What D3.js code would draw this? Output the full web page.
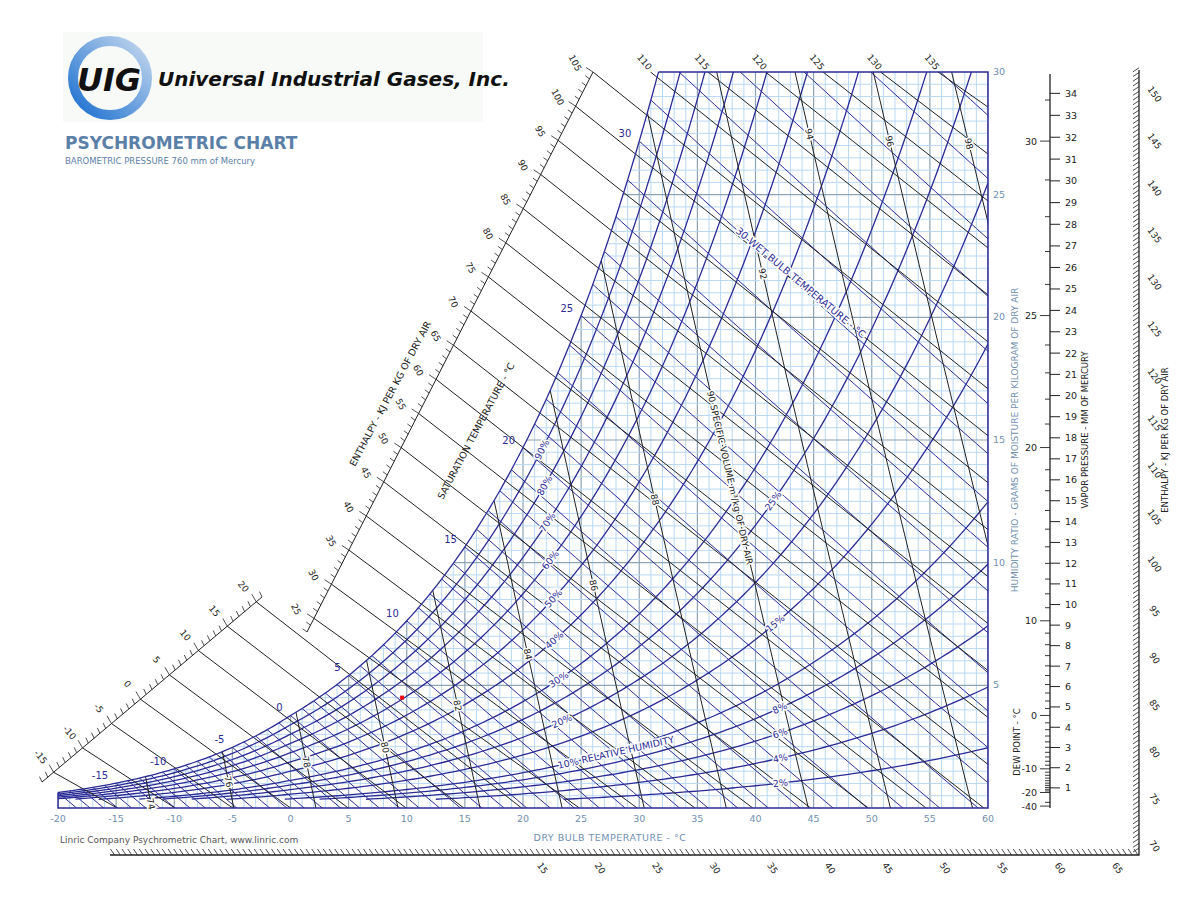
<!DOCTYPE html>
<html>
<head>
<meta charset="utf-8">
<script src="https://cdn.jsdelivr.net/npm/d3@7.9.0/dist/d3.min.js"></script>
<style>
  body { margin: 0; background: #fff; }
  svg text { font-family: "DejaVu Sans", Arial, sans-serif; }
</style>
</head>
<body>
<svg id="chart" width="1200" height="924"></svg>
<script>
// ---- data ----
const dryBulbTicks = [-20, -15, -10, -5, 0, 5, 10, 15, 20, 25, 30, 35, 40, 45, 50, 55, 60];
const humidityTicks = [5, 10, 15, 20, 25, 30];
const rhCurves = [0.02, 0.04, 0.06, 0.08, 0.10, 0.15, 0.20, 0.25, 0.30, 0.40, 0.50, 0.60, 0.70, 0.80, 0.90];
const rhLabelT = [41.5, 41.5, 41.5, 41.5, 23, 41, 22.5, 41, 22.3, 22, 22, 21.8, 21.6, 21.4, 21.2];
const wetBulbLabels = [-15, -10, -5, 0, 5, 10, 15, 20, 25, 30];
const enthalpyLower = [-15, -10, -5, 0, 5, 10, 15, 20];
const enthalpyUpper = [25, 30, 35, 40, 45, 50, 55, 60, 65, 70, 75, 80, 85, 90, 95, 100, 105];
const enthalpyTop = [110, 115, 120, 125, 130, 135];
const volumes = [0.74, 0.76, 0.78, 0.80, 0.82, 0.84, 0.86, 0.88, 0.90, 0.92, 0.94, 0.96, 0.98];
const volumeLabelW = [0.4, 1.3, 2.1, 2.7, 4.4, 6.5, 9.3, 12.8, 17, 22, 27.7, 27.4, 27.3];
const vaporPressureTicks = d3.range(1, 35);
const dewPointLabels = [-40, -20, -10, 0, 10, 20, 25, 30];
const bottomEnthalpy = [15, 20, 25, 30, 35, 40, 45, 50, 55, 60, 65];
const rightEnthalpy = [70, 75, 80, 85, 90, 95, 100, 105, 110, 115, 120, 125, 130, 135, 140, 145, 150];

// ---- psychrometrics ----
const P = 101.325;
const pws = t => t >= 0 ? 0.61078 * Math.exp(17.27 * t / (t + 237.3)) : 0.61078 * Math.exp(21.875 * t / (t + 265.5));
const wFromPw = pw => 622 * pw / (P - pw);
const wSat = t => wFromPw(pws(t));
const wWetBulb = (t, twb) => {
  const ws = wSat(twb) / 1000;
  return 1000 * ((2501 - 2.326 * twb) * ws - 1.006 * (t - twb)) / (2501 + 1.86 * t - 4.186 * twb);
};

const svg = d3.select('#chart');
const x = d3.scaleLinear().domain([-20, 60]).range([58, 988]);
const y = d3.scaleLinear().domain([0, 30]).range([808, 72]);
const navy = '#2b2b96', grayBlue = '#6f8fb2';
const line = d3.line().x(d => x(d[0])).y(d => y(d[1]));

// saturation boundary
let tTop = d3.range(-20, 40, 0.01).find(t => wSat(t) >= 30);
const satPts = d3.range(-20, tTop, 0.25).map(t => [t, wSat(t)]).concat([[tTop, 30]]);
const regionPts = satPts.concat([[60, 30], [60, 0], [-20, 0]]);
svg.append('clipPath').attr('id', 'region').append('path').attr('d', line(regionPts) + 'Z');
svg.append('clipPath').attr('id', 'rect').append('rect').attr('x', 0).attr('y', 72).attr('width', 988).attr('height', 736);

const g = svg.append('g').attr('clip-path', 'url(#region)');

// light grid
d3.range(-20, 61, 1).forEach(t => g.append('line').attr('x1', x(t)).attr('x2', x(t)).attr('y1', 72).attr('y2', 808)
  .attr('stroke', t % 5 === 0 ? '#8ea3b6' : '#b9d9f7').attr('stroke-width', t % 5 === 0 ? 1.2 : 1));
d3.range(0.5, 30, 0.5).forEach(w => g.append('line').attr('x1', 58).attr('x2', 988).attr('y1', y(w)).attr('y2', y(w))
  .attr('stroke', w % 5 === 0 ? '#8ea3b6' : '#b9d9f7').attr('stroke-width', w % 5 === 0 ? 1.2 : 1));

// wet bulb lines
d3.range(-20, 41, 1).forEach(twb => {
  const pts = d3.range(twb, 60.5, 0.5).map(t => [t, wWetBulb(t, twb)]).filter(d => d[1] > -1);
  g.append('path').attr('d', line(pts)).attr('fill', 'none').attr('stroke', navy).attr('stroke-width', 1);
});

// relative humidity curves
rhCurves.forEach(rh => {
  const pts = d3.range(-20, 60.5, 0.5).map(t => [t, wFromPw(rh * pws(t))]).filter(d => d[1] > 0.35);
  g.append('path').attr('d', line(pts)).attr('fill', 'none').attr('stroke', navy).attr('stroke-width', 1.3);
});

// specific volume lines
const tFromV = (v, w) => v * P / (0.287042 * (1 + 1.607858 * w / 1000)) - 273.15;
volumes.forEach(v => {
  const pts = d3.range(0, 31, 0.5).map(w => [tFromV(v, w), w]);
  g.append('path').attr('d', line(pts)).attr('fill', 'none').attr('stroke', '#222').attr('stroke-width', 1);
});

// enthalpy lines (black) from their scales to the chart edge
const lowerPos = h => [42 + (h + 17) * 5.79, 782 - (h + 17) * 4.87];
const upperPos = h => [307 + (h - 23) * 3.488, 632 - (h - 23) * 6.829];
const topPos = h => [593 + (h - 105) * 11.5, 72];
const hEnd = h => h <= 60.36 ? [x(h / 1.006), 808] : [988, y(1000 * (h - 60.36) / 2612.6)];
const ge = svg.append('g').attr('clip-path', 'url(#rect)');
[[enthalpyLower, lowerPos], [enthalpyUpper, upperPos], [enthalpyTop, topPos]].forEach(([hs, pos]) => {
  hs.forEach(h => {
    const a = pos(h), b = hEnd(h);
    ge.append('line').attr('x1', a[0]).attr('y1', a[1]).attr('x2', b[0]).attr('y2', b[1])
      .attr('stroke', '#222').attr('stroke-width', 1);
  });
});

// enthalpy scales (lower and upper segments)
function slantScale(pos, h0, h1, nx, ny, rot, labels) {
  const a = pos(h0), b = pos(h1);
  svg.append('line').attr('x1', a[0]).attr('y1', a[1]).attr('x2', b[0]).attr('y2', b[1]).attr('stroke', '#222');
  d3.range(h0, h1 + 0.01, 1).forEach(h => {
    const p = pos(h), len = h % 5 === 0 ? 10 : 7;
    svg.append('line').attr('x1', p[0]).attr('y1', p[1]).attr('x2', p[0] + nx * len + 2).attr('y2', p[1] + ny * len)
      .attr('stroke', '#222').attr('stroke-width', 0.8);
  });
  labels.forEach(h => {
    const p = pos(h);
    svg.append('text').attr('transform', `translate(${p[0] + nx * 20},${p[1] + ny * 20}) rotate(${rot})`)
      .attr('text-anchor', 'middle').attr('dy', '0.35em').attr('font-size', 9).attr('fill', '#222').text(h);
  });
}
slantScale(lowerPos, -17, 21, -0.644, -0.765, 50, enthalpyLower);
slantScale(upperPos, 23, 105, -0.891, -0.455, 62, enthalpyUpper);
enthalpyTop.forEach(h => {
  const p = topPos(h);
  svg.append('text').attr('transform', `translate(${p[0] - 6},${p[1] - 10}) rotate(50)`)
    .attr('text-anchor', 'middle').attr('dy', '0.35em').attr('font-size', 9).attr('fill', '#222').text(h);
});

// chart frame
svg.append('path').attr('d', `M${x(tTop)},72H988V808H58V${y(wSat(-20))}`).attr('fill', 'none').attr('stroke', navy).attr('stroke-width', 1.5);
svg.append('path').attr('d', line(satPts)).attr('fill', 'none').attr('stroke', navy).attr('stroke-width', 1.3);

// saturation labels
wetBulbLabels.forEach(t => {
  svg.append('text').attr('x', x(t) - 8).attr('y', y(wSat(t)) - 4).attr('text-anchor', 'end')
    .attr('font-size', 10).attr('fill', navy).text(t);
});

// RH labels
const halo = s => s.attr('stroke', '#fff').attr('stroke-width', 3).attr('paint-order', 'stroke');
rhCurves.forEach((rh, i) => {
  const t = rhLabelT[i];
  const p0 = [x(t), y(wFromPw(rh * pws(t)))], p1 = [x(t + 1), y(wFromPw(rh * pws(t + 1)))];
  const ang = Math.atan2(p1[1] - p0[1], p1[0] - p0[0]) * 180 / Math.PI;
  const label = rh === 0.10 ? '10% RELATIVE HUMIDITY' : Math.round(rh * 100) + '%';
  halo(svg.append('text').attr('transform', `translate(${p0[0]},${p0[1]}) rotate(${ang})`)
    .attr('dy', '0.35em').attr('font-size', 9.5).attr('fill', navy).text(label));
});

// volume labels
volumes.forEach((v, i) => {
  const w = volumeLabelW[i], t = tFromV(v, w);
  const p0 = [x(t), y(w)], p1 = [x(tFromV(v, w - 1)), y(w - 1)];
  const ang = Math.atan2(p1[1] - p0[1], p1[0] - p0[0]) * 180 / Math.PI;
  const label = v === 0.90 ? '90 SPECIFIC VOLUME m³/kg OF DRY AIR' : String(Math.round(v * 100));
  halo(svg.append('text').attr('transform', `translate(${p0[0]},${p0[1]}) rotate(${ang})`)
    .attr('text-anchor', 'start').attr('dy', '0.35em').attr('font-size', 9).attr('fill', '#222').text(label));
});

// axis titles inside chart
halo(svg.append('text').attr('transform', 'translate(735,232) rotate(40)').attr('font-size', 10).attr('fill', navy)
  .text('30 WET BULB TEMPERATURE - °C'));
svg.append('text').attr('transform', 'translate(443,500) rotate(-62)').attr('font-size', 9.5).attr('fill', '#222')
  .text('SATURATION TEMPERATURE - °C');
svg.append('text').attr('transform', 'translate(355,467) rotate(-62)').attr('font-size', 9.5).attr('fill', '#222')
  .text('ENTHALPY - KJ PER KG OF DRY AIR');

// red point
svg.append('rect').attr('x', x(9.6) - 2).attr('y', y(4.5) - 2).attr('width', 4).attr('height', 4).attr('fill', 'red');

// bottom and right axes
dryBulbTicks.forEach(t => svg.append('text').attr('x', x(t)).attr('y', 822).attr('text-anchor', 'middle')
  .attr('font-size', 9.5).attr('fill', grayBlue).text(t));
svg.append('text').attr('x', 610).attr('y', 841).attr('text-anchor', 'middle').attr('font-size', 9.5)
  .attr('fill', grayBlue).attr('letter-spacing', 0.5).text('DRY BULB TEMPERATURE - °C');
humidityTicks.forEach(w => svg.append('text').attr('x', 993).attr('y', y(w) + 3).attr('font-size', 9.5)
  .attr('fill', grayBlue).text(w));
svg.append('text').attr('transform', 'translate(1018,440) rotate(-90)').attr('text-anchor', 'middle').attr('font-size', 9)
  .attr('fill', grayBlue).text('HUMIDITY RATIO - GRAMS OF MOISTURE PER KILOGRAM OF DRY AIR');
svg.append('text').attr('x', 60).attr('y', 843).attr('font-size', 9).attr('fill', '#555')
  .text('Linric Company Psychrometric Chart, www.linric.com');

// vapour pressure / dew point scale
const vx = 1050;
svg.append('line').attr('x1', vx).attr('x2', vx).attr('y1', 74).attr('y2', 808).attr('stroke', '#222').attr('stroke-width', 1.3);
vaporPressureTicks.forEach(p => {
  const yy = y(wFromPw(p * P / 760));
  svg.append('line').attr('x1', vx).attr('x2', vx + 10).attr('y1', yy).attr('y2', yy).attr('stroke', '#222');
  svg.append('text').attr('x', vx + 15).attr('y', yy + 3.5).attr('font-size', 9.5).attr('fill', '#222').text(p);
});
d3.range(-20, 32, 1).concat([-40, -30]).forEach(td => {
  const yy = y(wSat(td)), major = dewPointLabels.includes(td);
  svg.append('line').attr('x1', vx - (major ? 10 : 5)).attr('x2', vx).attr('y1', yy).attr('y2', yy)
    .attr('stroke', '#222').attr('stroke-width', 0.9);
  if (major) svg.append('text').attr('x', vx - 13).attr('y', yy + 3.5).attr('text-anchor', 'end')
    .attr('font-size', 9.5).attr('fill', '#222').text(td);
});
svg.append('text').attr('transform', 'translate(1088,430) rotate(-90)').attr('text-anchor', 'middle').attr('font-size', 8.5)
  .attr('fill', '#222').text('VAPOR PRESSURE - MM OF MERCURY');
svg.append('text').attr('transform', 'translate(1020,742) rotate(-90)').attr('text-anchor', 'middle').attr('font-size', 8.5)
  .attr('fill', '#222').text('DEW POINT - °C');

// outer enthalpy scales (bottom and right)
const bx = h => 540 + (h - 15) * 11.5;
const ry = h => 848 - (h - 70) * 9.4;
svg.append('path').attr('d', `M110,855H1139V70`).attr('fill', 'none').attr('stroke', '#222').attr('stroke-width', 1.3);
d3.range(-22.5, 71, 0.5).filter(h => bx(h) >= 110 && bx(h) <= 1139).forEach(h => {
  svg.append('line').attr('x1', bx(h)).attr('y1', 855).attr('x2', bx(h) - 4).attr('y2', 849).attr('stroke', '#222').attr('stroke-width', 0.8);
});
d3.range(70, 153.5, 0.5).forEach(h => {
  svg.append('line').attr('x1', 1139).attr('y1', ry(h)).attr('x2', 1133).attr('y2', ry(h) + 4).attr('stroke', '#222').attr('stroke-width', 0.8);
});
bottomEnthalpy.forEach(h => svg.append('text').attr('transform', `translate(${bx(h)},870) rotate(55)`)
  .attr('text-anchor', 'middle').attr('font-size', 9).attr('fill', '#222').text(h));
rightEnthalpy.forEach(h => svg.append('text').attr('transform', `translate(1152,${ry(h)}) rotate(55)`)
  .attr('text-anchor', 'middle').attr('font-size', 9).attr('fill', '#222').text(h));
svg.append('text').attr('transform', 'translate(1168,440) rotate(-90)').attr('text-anchor', 'middle').attr('font-size', 8.5)
  .attr('fill', '#222').text('ENTHALPY - KJ PER KG OF DRY AIR');

// header / logo
svg.append('rect').attr('x', 63).attr('y', 32).attr('width', 420).attr('height', 90).attr('fill', '#f7faf7');
const grad = svg.append('defs').append('linearGradient').attr('id', 'ring').attr('x1', 0).attr('y1', 1).attr('x2', 1).attr('y2', 0);
grad.append('stop').attr('offset', '0%').attr('stop-color', '#1a6fd0');
grad.append('stop').attr('offset', '100%').attr('stop-color', '#c5d8ee');
svg.append('circle').attr('cx', 110).attr('cy', 78).attr('r', 37).attr('fill', 'none').attr('stroke', 'url(#ring)').attr('stroke-width', 10);
svg.append('text').attr('x', 109).attr('y', 91).attr('text-anchor', 'middle').attr('font-size', 32).attr('font-weight', 'bold')
  .attr('font-style', 'italic').attr('fill', '#111').text('UIG');
svg.append('text').attr('x', 158).attr('y', 86).attr('font-size', 20).attr('font-weight', 'bold')
  .attr('font-style', 'italic').attr('fill', '#111').text('Universal Industrial Gases, Inc.');
svg.append('text').attr('x', 65).attr('y', 149).attr('font-size', 17).attr('font-weight', 'bold')
  .attr('fill', '#5b80a8').text('PSYCHROMETRIC CHART');
svg.append('text').attr('x', 65).attr('y', 164).attr('font-size', 8.5).attr('fill', '#5b80a8')
  .text('BAROMETRIC PRESSURE 760 mm of Mercury');
</script>
</body>
</html>
